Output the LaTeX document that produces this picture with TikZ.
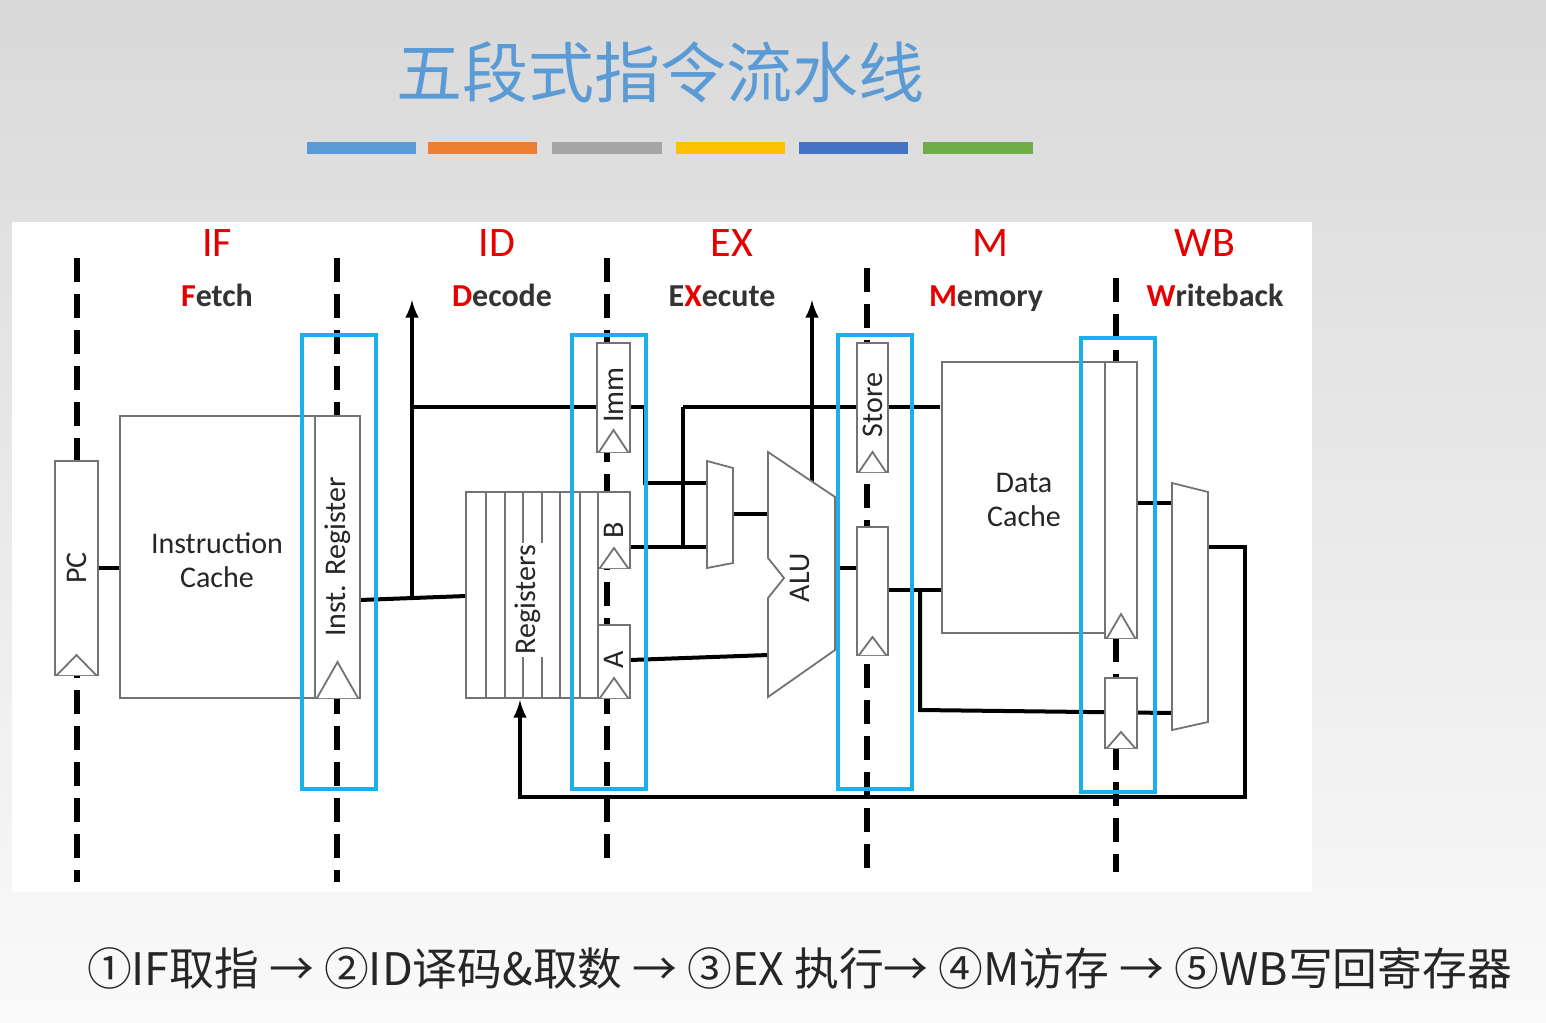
\documentclass[tikz,border=0pt]{standalone}
\usepackage{fontspec}
\setmainfont{Carlito}
\newfontfamily\cjk{Noto Sans CJK SC}
\definecolor{cA}{RGB}{91,155,213}
\definecolor{cB}{RGB}{237,125,49}
\definecolor{cC}{RGB}{165,165,165}
\definecolor{cD}{RGB}{255,192,0}
\definecolor{cE}{RGB}{68,114,196}
\definecolor{cF}{RGB}{112,173,71}
\definecolor{bgtop}{RGB}{217,217,217}
\definecolor{bgbot}{RGB}{250,250,250}
\definecolor{sky}{RGB}{26,176,236}
\definecolor{stred}{RGB}{230,0,0}
\begin{document}
\begin{tikzpicture}[x=0.5pt,y=-0.5pt,
  blk/.style={draw=black!55,line width=0.9pt,fill=white},
  wire/.style={line width=2pt,black},
  clk/.style={line width=3.2pt,dash pattern=on 12pt off 6pt},
  bluebox/.style={draw=sky,line width=2pt},
  stg/.style={text=stred,font=\fontsize{21}{21}\selectfont},
  sub/.style={text=black!80,anchor=base,font=\bfseries\fontsize{16}{16}\selectfont},
  lbl/.style={text=black!85,font=\fontsize{15}{17}\selectfont,align=center},
  rlbl/.style={lbl,rotate=90}]
\useasboundingbox (0,0) rectangle (1546,1022);
\shade[top color=bgtop,bottom color=bgbot] (0,0) rectangle (1546,1022);
\fill[white] (12,222) rectangle (1312,892);
% title
\node[text=cA,font=\cjk\fontsize{33}{33}\selectfont] (title) at (660,72) {五段式指令流水线};
\fill[cA] (307,142) rectangle (416,154);
\fill[cB] (428,142) rectangle (537,154);
\fill[cC] (552,142) rectangle (662,154);
\fill[cD] (676,142) rectangle (785,154);
\fill[cE] (799,142) rectangle (908,154);
\fill[cF] (923,142) rectangle (1033,154);
% stage labels
\node[stg] (sIF) at (217,243) {IF};
\node[sub] (fIF) at (217,306) {\textcolor{stred}{F}etch};
\node[stg] (sID) at (497,243) {ID};
\node[sub] (fID) at (502,306) {\textcolor{stred}{D}ecode};
\node[stg] (sEX) at (732,243) {EX};
\node[sub] (fEX) at (722,306) {E\textcolor{stred}{X}ecute};
\node[stg] (sM) at (990,243) {M};
\node[sub] (fM) at (986,306) {\textcolor{stred}{M}emory};
\node[stg] (sWB) at (1205,243) {WB};
\node[sub] (fWB) at (1215,306) {\textcolor{stred}{W}riteback};
% clock lines
\draw[clk] (77,258) -- (77,882);
\draw[clk] (337,258) -- (337,882);
\draw[clk] (607,258) -- (607,862);
\draw[clk] (867,268) -- (867,872);
\draw[clk] (1116,278) -- (1116,872);
% wires
\draw[wire] (98,568) -- (120,568);
\draw[wire] (360,600) -- (466,596);
\draw[wire,-latex] (412,599) -- (412,300);
\draw[wire] (412,407) -- (597,407);
\draw[wire] (630,407) -- (645,407) -- (645,483) -- (707,483);
\draw[wire] (683,407) -- (940,407);
\draw[wire] (683,407) -- (683,547);
\draw[wire] (630,547) -- (707,547);
\draw[wire] (733,514) -- (768,514);
\draw[wire] (630,660) -- (768,655);
\draw[wire,-latex] (812,483) -- (812,300);
\draw[wire] (835,568) -- (857,568);
\draw[wire] (888,590) -- (942,590);
\draw[wire] (920,590) -- (920,710) -- (1172,713);
\draw[wire] (1137,503) -- (1172,503);
\draw[wire,-latex] (1208,547) -- (1245,547) -- (1245,797) -- (520,797) -- (520,700);
% blocks
\draw[blk] (55,461) rectangle (98,675);
\node[rlbl] (pc) at (77,568) {PC};
\draw[blk] (120,416) rectangle (315,698);
\node[lbl] (ic) at (217,560) {Instruction\\Cache};
\draw[blk] (315,416) rectangle (360,698);
\node[rlbl] (ir) at (338,557) {Inst. Register};
\draw[blk] (466,492) rectangle (598,698);
\foreach \x in {486,505,523,542,560,580} \draw[black!55,line width=0.9pt] (\x,492) -- (\x,698);
\node[rlbl,fill=white,inner sep=1pt] (regs) at (528,600) {Registers};
\draw[blk] (597,343) rectangle (630,452);
\node[rlbl] (imm) at (614,395) {Imm};
\draw[blk] (598,492) rectangle (630,568);
\node[rlbl] (B) at (614,530) {B};
\draw[blk] (598,625) rectangle (630,698);
\node[rlbl] (A) at (614,660) {A};
\draw[blk] (707,461) -- (733,468) -- (733,563) -- (707,568) -- cycle;
\draw[blk] (768,452) -- (835,497) -- (835,650) -- (768,697) -- (768,598) -- (784,578) -- (768,558) -- cycle;
\node[rlbl] (alu) at (800,578) {ALU};
\draw[blk] (857,343) rectangle (888,472);
\node[rlbl] (store) at (873,405) {Store};
\draw[blk] (857,527) rectangle (888,655);
\draw[blk] (942,362) rectangle (1105,633);
\node[lbl] (dc) at (1024,500) {Data\\Cache};
\draw[blk] (1105,362) rectangle (1137,638);
\draw[blk] (1105,678) rectangle (1137,748);
\draw[blk] (1172,483) -- (1208,492) -- (1208,722) -- (1172,730) -- cycle;
% clock triangles
\foreach \xa/\xb/\yb/\h in {55/98/675/20,315/360/698/36,597/630/452/22,598/630/568/20,598/630/698/20,857/888/472/20,857/888/655/18,1105/1137/638/24,1105/1137/748/16}
  \draw[black!55,line width=0.9pt,fill=white] (\xa+2,\yb) -- ({(\xa+\xb)/2},\yb-\h) -- (\xb-2,\yb);
% blue boxes
\draw[bluebox] (302,335) rectangle (376,789);
\draw[bluebox] (572,335) rectangle (646,789);
\draw[bluebox] (838,335) rectangle (912,789);
\draw[bluebox] (1081,338) rectangle (1155,792);
% bottom line
\node[anchor=west,text=black!85,font=\cjk\fontsize{22.4}{22.4}\selectfont] (steps) at (80,968) {①IF取指 → ②ID译码\&取数 → ③EX 执行→ ④M访存 → ⑤WB写回寄存器};
\end{tikzpicture}
\end{document}
